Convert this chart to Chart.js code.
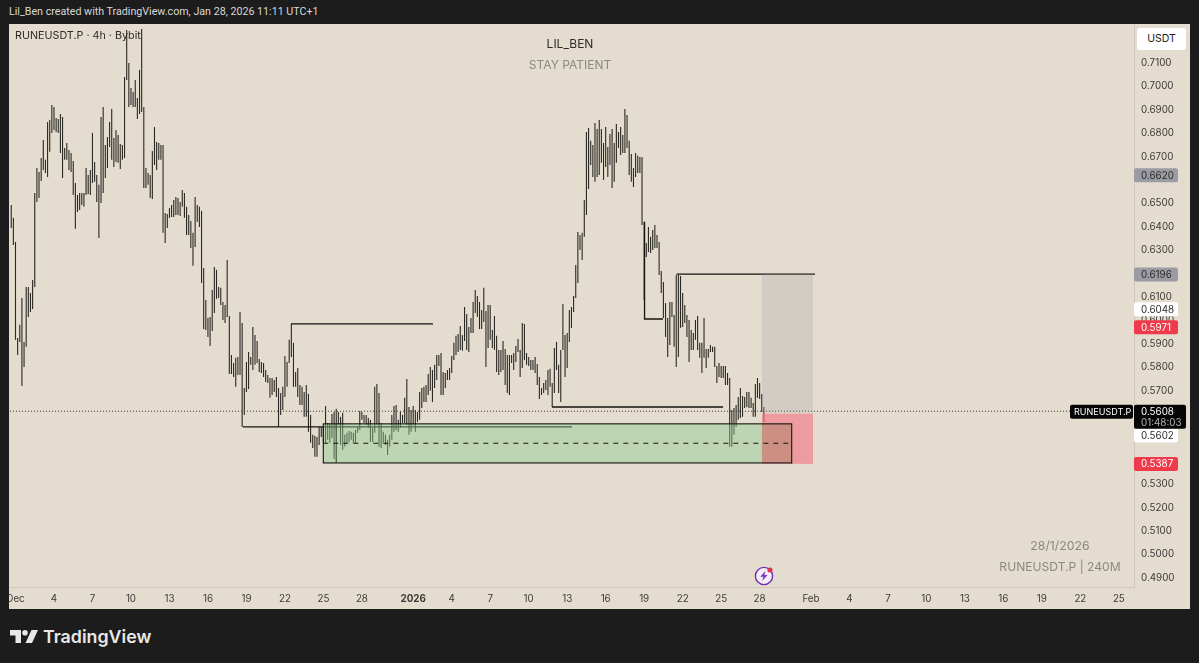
<!DOCTYPE html>
<html>
<head>
<meta charset="utf-8">
<title>RUNEUSDT.P</title>
<script src="https://cdn.jsdelivr.net/npm/chart.js@4/dist/chart.umd.js"></script>
<style>
    html, body { margin: 0; padding: 0; width: 1199px; height: 663px; overflow: hidden; background: #1c1c1c; }
    body { position: relative; font-family: Inter, "Noto Sans", sans-serif; }
    #panel { position: absolute; left: 9px; top: 24px; width: 1181px; height: 585px; background: #e4dccf; }
    #panel canvas { display: block; }
    .txt { position: absolute; white-space: nowrap; line-height: 1; }
    .mid { transform: translateX(-50%); }
</style>
</head>
<body>
<div class="txt" style="left:9px;top:7px;font-size:10.7px;color:#d8d8d8;font-family:Roboto">Lil_Ben created with TradingView.com, Jan 28, 2026 11:11 UTC+1</div>
<div id="panel"><canvas id="chartE" width="1181" height="585"></canvas></div>
<div class="txt" style="left:15px;top:31px;font-size:10.75px;color:#2c2c2a">RUNEUSDT.P · 4h · Bybit</div>
<div class="txt mid" style="left:570px;top:38px;font-size:12px;color:#2c2c2a">LIL_BEN</div>
<div class="txt mid" style="left:570px;top:59px;font-size:12px;color:#8b8880">STAY PATIENT</div>
<div class="txt mid" style="left:1060px;top:540px;font-size:12.3px;color:#8b8880">28/1/2026</div>
<div class="txt mid" style="left:1060px;top:561px;font-size:12.1px;color:#8b8880">RUNEUSDT.P | 240M</div>
<div class="txt" style="left:1137px;top:28px;width:49px;height:22px;line-height:22px;background:#fff;border-radius:3px;text-align:center;font-size:10.5px;color:#222">USDT</div>
<svg style="position:absolute;left:752px;top:564px" width="24" height="24" viewBox="0 0 24 24">
    <circle cx="12" cy="12" r="8.6" fill="#f4eef8" stroke="#6f2fb0" stroke-width="1.4"/>
    <path d="M13.5 6.8 L8.3 12.8 L11.4 12.8 L10.3 17 L15.6 10.9 L12.4 10.9 Z" fill="#7b35c2"/>
    <circle cx="18" cy="6" r="2.6" fill="#d8384e"/>
</svg>
<svg style="position:absolute;left:10px;top:629px" width="28" height="15" viewBox="0 0 28 15">
    <path d="M0 1 H11 V14 H5.5 V6.5 H0 Z" fill="#e8e8e8"/>
    <circle cx="15" cy="3.8" r="2.8" fill="#e8e8e8"/>
    <path d="M21.5 1 H28 L22 14 H15.5 Z" fill="#e8e8e8"/>
</svg>
<div class="txt" style="left:43px;top:628px;font-size:17.8px;font-weight:600;color:#e8e8e8">TradingView</div>

<script>
// 4h bars, first one on 30 Nov 16:00, x axis is in days since 1 Dec
let firstBarDay = -1 / 3;

let highs = [
    .6489,.6434,.6331,.5921,.5977,.6092,.5904,.6139,.6139,.6113,
    .6169,.6540,.6647,.6630,.6690,.6767,.6682,.6844,.6852,.6916,
    .6908,.6861,.6856,.6878,.6865,.6733,.6754,.6724,.6711,.6677,
    .6583,.6532,.6540,.6540,.6540,.6647,.6617,.6639,.6797,.6673,
    .6617,.6575,.6865,.6908,.6745,.6780,.6844,.6899,.6775,.6809,
    .6788,.6750,.6745,.7036,.7237,.7096,.6989,.6972,.7023,.6946,
    .7066,.7241,.6908,.6647,.6626,.6617,.6720,.6822,.6758,.6754,
    .6745,.6745,.6455,.6451,.6476,.6489,.6510,.6523,.6519,.6502,
    .6553,.6540,.6481,.6446,.6421,.6370,.6523,.6489,.6481,.6464,
    .6220,.6083,.6006,.6011,.6126,.6224,.6212,.6139,.6135,.6075,
    .6062,.6254,.6015,.5848,.5814,.5836,.5840,.6032,.5985,.5707,
    .5818,.5861,.5840,.5968,.5934,.5908,.5831,.5818,.5814,.5784,
    .5763,.5750,.5750,.5741,.5754,.5707,.5686,.5712,.5844,.5818,
    .5913,.5981,.5900,.5776,.5793,.5720,.5712,.5690,.5720,.5682,
    .5592,.5507,.5503,.5498,.5541,.5541,.5541,.5630,.5558,.5554,
    .5596,.5605,.5618,.5605,.5584,.5601,.5507,.5516,.5524,.5520,
    .5516,.5528,.5541,.5609,.5605,.5592,.5592,.5579,.5571,.5537,
    .5712,.5724,.5686,.5558,.5520,.5507,.5486,.5507,.5592,.5630,
    .5635,.5571,.5605,.5592,.5665,.5746,.5626,.5613,.5630,.5613,
    .5605,.5690,.5707,.5712,.5720,.5767,.5797,.5784,.5806,.5848,
    .5848,.5857,.5776,.5771,.5784,.5793,.5844,.5900,.5930,.5938,
    .5972,.5934,.6053,.6023,.5968,.6006,.6075,.6126,.6100,.6075,
    .6040,.6135,.6036,.6062,.6062,.5955,.6015,.5930,.5870,.5870,
    .5908,.5874,.5848,.5848,.5848,.5857,.5887,.5917,.5870,.5985,
    .5981,.5857,.5840,.5827,.5827,.5840,.5810,.5754,.5707,.5729,
    .5741,.5784,.5789,.5729,.5878,.5904,.5806,.5870,.6066,.5934,
    .5942,.6040,.6053,.6100,.6233,.6374,.6361,.6370,.6510,.6801,
    .6818,.6763,.6745,.6839,.6814,.6852,.6814,.6754,.6822,.6737,
    .6792,.6814,.6754,.6835,.6801,.6822,.6788,.6899,.6874,.6763,
    .6707,.6647,.6711,.6699,.6694,.6694,.6417,.6327,.6395,.6353,
    .6382,.6404,.6361,.6331,.6207,.6160,.6070,.6006,.6075,.6075,
    .6019,.6190,.6190,.6186,.6113,.6062,.6019,.5998,.5955,.5942,
    .5998,.6015,.5900,.5900,.6006,.5874,.5874,.5891,.5883,.5883,
    .5801,.5814,.5801,.5801,.5801,.5771,.5750,.5613,.5622,.5635,
    .5669,.5707,.5673,.5669,.5690,.5690,.5665,.5643,.5724,.5750,
    .5729,.5682,.5626
];

let lows = [
    .6391,.6318,.5913,.5848,.5904,.5716,.5797,.5883,.6011,.6032,
    .6045,.6139,.6502,.6519,.6592,.6639,.6626,.6609,.6716,.6797,
    .6809,.6801,.6797,.6711,.6604,.6682,.6682,.6639,.6630,.6532,
    .6387,.6459,.6468,.6489,.6481,.6532,.6536,.6532,.6583,.6588,
    .6502,.6348,.6498,.6540,.6604,.6647,.6737,.6682,.6651,.6673,
    .6669,.6643,.6682,.6690,.7023,.6908,.6916,.6908,.6908,.6856,
    .6878,.6886,.6562,.6562,.6575,.6519,.6515,.6660,.6639,.6682,
    .6682,.6370,.6327,.6391,.6434,.6438,.6438,.6446,.6446,.6442,
    .6481,.6434,.6361,.6361,.6305,.6229,.6310,.6417,.6395,.6156,
    .5959,.5955,.5925,.5887,.5951,.6028,.6088,.6092,.6062,.5998,
    .5985,.6011,.5767,.5767,.5754,.5712,.5763,.5763,.5541,.5592,
    .5690,.5703,.5806,.5784,.5806,.5814,.5776,.5771,.5754,.5733,
    .5729,.5665,.5677,.5690,.5669,.5541,.5592,.5613,.5669,.5712,
    .5814,.5840,.5712,.5712,.5669,.5635,.5635,.5584,.5584,.5520,
    .5473,.5451,.5413,.5413,.5464,.5498,.5473,.5473,.5486,.5473,
    .5494,.5404,.5528,.5550,.5464,.5443,.5456,.5473,.5477,.5486,
    .5473,.5473,.5516,.5528,.5571,.5558,.5550,.5537,.5477,.5477,
    .5516,.5550,.5456,.5451,.5473,.5464,.5421,.5456,.5486,.5520,
    .5528,.5520,.5537,.5558,.5558,.5550,.5507,.5520,.5550,.5520,
    .5562,.5571,.5622,.5647,.5647,.5677,.5695,.5647,.5707,.5741,
    .5801,.5677,.5677,.5707,.5741,.5741,.5771,.5827,.5848,.5861,
    .5870,.5866,.5908,.5870,.5861,.5942,.5942,.6028,.6011,.5959,
    .5959,.5989,.5797,.5878,.5913,.5878,.5870,.5776,.5763,.5776,
    .5784,.5720,.5686,.5677,.5814,.5784,.5818,.5861,.5754,.5793,
    .5827,.5806,.5801,.5784,.5784,.5771,.5720,.5660,.5677,.5686,
    .5699,.5677,.5712,.5626,.5686,.5784,.5686,.5647,.5870,.5754,
    .5793,.5904,.5964,.6032,.6092,.6156,.6297,.6254,.6353,.6446,
    .6557,.6660,.6609,.6588,.6609,.6617,.6669,.6596,.6651,.6609,
    .6660,.6562,.6588,.6669,.6733,.6703,.6711,.6711,.6733,.6617,
    .6588,.6566,.6609,.6626,.6626,.6404,.6083,.6267,.6288,.6284,
    .6297,.6305,.6305,.6190,.6113,.6006,.5925,.5840,.5891,.6011,
    .5883,.5797,.5840,.5964,.5968,.5985,.5925,.5818,.5870,.5870,
    .5913,.5870,.5836,.5771,.5836,.5793,.5836,.5861,.5861,.5797,
    .5729,.5754,.5750,.5750,.5720,.5720,.5456,.5456,.5507,.5541,
    .5571,.5579,.5584,.5622,.5626,.5622,.5622,.5584,.5584,.5665,
    .5660,.5605,.5562
];

let yTickValues = [.71, .70, .69, .68, .67, .65, .64, .63, .61, .60, .59, .58, .57, .53, .52, .51, .50, .49];

let xTickDays = [0, 3, 6, 9, 12, 15, 18, 21, 24, 27, 31, 34, 37, 40, 43, 46, 49, 52, 55, 58, 62, 65, 68, 71, 74, 77, 80, 83, 86];
let xTickLabels = ["Dec", "4", "7", "10", "13", "16", "19", "22", "25", "28", "2026", "4", "7", "10", "13", "16", "19", "22", "25", "28", "Feb", "4", "7", "10", "13", "16", "19", "22", "25"];

// drawn levels, [day, price]
let levelA = [[21.47, .5981], [32.54, .5981]];
let levelB = [[17.73, .5541], [43.37, .5541]];
let levelC = [[41.82, .5626], [55.15, .5626]];
let levelD = [[49.03, .6417], [49.03, .6002], [50.47, .6002]];
let levelE = [[51.52, .6194], [62.31, .6194]];
let splitLine = [[25, .5554], [25, .5387]];
let lastPriceLine = [[-0.43, .5608], [82.2, .5608]];

// zones: day from, day to, price top, price bottom
let demandZone = [23.99, 60.5, .5554, .5387];
let targetZone = [58.18, 62.16, .6196, .5602];
let stopZone = [58.18, 62.16, .5598, .5383];
let overlapZone = [58.18, 60.5, .5554, .5387];
let zoneMidPrice = .5471;

// price tags on the right axis
let tagPrices = [.6620, .6196, .6048, .5971, .5602, .5387];
let tagBack = ["#9a9ba3", "#9a9ba3", "#ffffff", "#ef3a4c", "#ffffff", "#ef3a4c"];
let tagText = ["#2c2c2a", "#2c2c2a", "#2c2c2a", "#ffffff", "#2c2c2a", "#ffffff"];
let tagShift = [1, 1, 1, 1, 23, 1];
let lastPrice = .5608;
let countdown = "01:48:03";
let symbolName = "RUNEUSDT.P";

let inkColor = "rgb(42, 40, 34)";
let textColor = "#3a3a36";

let toPoints = (line) => line.map((p) => ({ x: p[0], y: p[1] }));

function lineSet(line, extra) {
    return Object.assign({
        type: "line",
        data: toPoints(line),
        borderColor: "#141310",
        borderWidth: 1.3,
        pointRadius: 0,
        tension: 0,
        order: 1,
    }, extra);
}

let barData = highs.map((h, i) => ({ x: firstBarDay + i / 6, y: [lows[i], h] }));

// scale label overhang would push the plot inwards, the panel is laid out by hand
function noLabelPadding(scale) {
    scale.paddingLeft = 0;
    scale.paddingRight = 0;
    scale.paddingTop = 0;
    scale.paddingBottom = 0;
}

// zones sit over the bars, same as the transparent boxes on the original
let zonesPlugin = {
    id: "zones",
    afterDatasetsDraw(chart) {
        let c = chart.ctx;
        let xs = chart.scales.x;
        let ys = chart.scales.y;
        let rect = (z) => [xs.getPixelForValue(z[0]), ys.getPixelForValue(z[2]),
            xs.getPixelForValue(z[1]) - xs.getPixelForValue(z[0]), ys.getPixelForValue(z[3]) - ys.getPixelForValue(z[2])];
        c.save();
        c.fillStyle = "rgba(145, 203, 144, 0.45)";
        c.fillRect(...rect(demandZone));
        c.fillStyle = "rgba(150, 151, 160, 0.22)";
        c.fillRect(...rect(targetZone));
        c.fillStyle = "rgba(245, 112, 129, 0.6)";
        c.fillRect(...rect(stopZone));
        c.fillStyle = "rgba(90, 90, 40, 0.15)";
        c.fillRect(...rect(overlapZone));
        c.strokeStyle = "#141310";
        c.lineWidth = 1.1;
        c.strokeRect(...rect(demandZone));
        c.setLineDash([5, 5]);
        c.beginPath();
        c.moveTo(xs.getPixelForValue(demandZone[0]), ys.getPixelForValue(zoneMidPrice));
        c.lineTo(xs.getPixelForValue(demandZone[1]), ys.getPixelForValue(zoneMidPrice));
        c.stroke();
        c.restore();
    },
};

let tagsPlugin = {
    id: "tags",
    afterDraw(chart) {
        let c = chart.ctx;
        let ys = chart.scales.y;
        let left = chart.chartArea.right;
        c.save();
        c.font = "9.8px Inter";
        c.textBaseline = "middle";
        c.textAlign = "left";
        tagPrices.forEach((price, i) => {
            let y = ys.getPixelForValue(price) + tagShift[i];
            c.fillStyle = tagBack[i];
            c.beginPath();
            c.roundRect(left, y - 7, 44, 14, 2);
            c.fill();
            c.fillStyle = tagText[i];
            c.fillText(price.toFixed(4), left + 7, y + 0.5);
        });
        let y = ys.getPixelForValue(lastPrice) + 0.5;
        c.fillStyle = "#050505";
        c.beginPath();
        c.roundRect(left, y - 7, 52, 24, 2);
        c.fill();
        c.beginPath();
        c.roundRect(left - 64, y - 7, 63, 14, 2);
        c.fill();
        c.fillStyle = "#ffffff";
        c.fillText(lastPrice.toFixed(4), left + 7, y + 0.5);
        c.font = "9px Inter";
        c.fillText(symbolName, left - 60, y + 0.5);
        c.font = "9.8px Inter";
        c.fillStyle = "#b5b5b0";
        c.fillText(countdown, left + 7, y + 11.5);
        c.restore();
    },
};

let chartE = document.getElementById("chartE");

let priceChart = new Chart(chartE, {
    plugins: [zonesPlugin, tagsPlugin],
    data: {
        datasets: [
            {
                type: "bar",
                data: barData,
                backgroundColor: (ctx) => (ctx.dataIndex === highs.length - 1 ? "rgb(120, 40, 40)" : inkColor),
                barThickness: 1.1,
                inflateAmount: 0,
                borderWidth: 0,
                order: 2,
            },
            lineSet(levelA),
            lineSet(levelB),
            lineSet(levelC),
            lineSet(levelD),
            lineSet(levelE),
            lineSet(splitLine),
            lineSet(lastPriceLine, { borderWidth: 1, borderDash: [1, 2], borderColor: "#3a3a36" }),
        ],
    },
    options: {
        responsive: false,
        animation: false,
        layout: { padding: { left: 1, top: 1, right: 0, bottom: 0 } },
        plugins: {
            legend: { display: false },
            tooltip: { enabled: false },
        },
        scales: {
            x: {
                type: "linear",
                offset: false,
                min: -0.4287,
                max: 87.18,
                grid: { display: false, drawTicks: false, offset: false },
                border: { color: "#cdc6b9" },
                afterBuildTicks: (scale) => { scale.ticks = xTickDays.map((d) => ({ value: d })); },
                afterFit: (scale) => { scale.height = 22; noLabelPadding(scale); },
                ticks: {
                    autoSkip: false,
                    maxRotation: 0,
                    padding: 6,
                    color: textColor,
                    font: (ctx) => (ctx.tick && ctx.tick.value === 31
                        ? { family: "Inter", size: 9.8, weight: "bold" }
                        : { family: "Inter", size: 9.8 }),
                    callback: (value) => xTickLabels[xTickDays.indexOf(value)],
                },
            },
            y: {
                position: "right",
                min: .4857,
                max: .7258,
                grid: { display: false, drawTicks: false },
                border: { color: "#cdc6b9" },
                afterBuildTicks: (scale) => { scale.ticks = yTickValues.map((v) => ({ value: v })); },
                afterFit: (scale) => { scale.width = 56; noLabelPadding(scale); },
                ticks: {
                    autoSkip: false,
                    padding: 7,
                    labelOffset: 1,
                    color: textColor,
                    font: { family: "Inter", size: 9.8 },
                    callback: (value) => value.toFixed(4),
                },
            },
        },
    },
});
</script>
</body>
</html>
